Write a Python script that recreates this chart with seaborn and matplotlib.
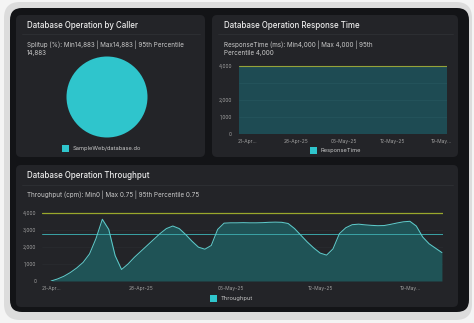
import numpy as np
import pandas as pd
import matplotlib
matplotlib.use("Agg")
import matplotlib.pyplot as plt
import seaborn as sns
from matplotlib.patches import FancyBboxPatch, Rectangle

# ---------------- data ----------------
pie_labels = ["SampleWeb/database.do"]
pie_values = [14883]

rt_dates = pd.date_range("2025-04-19 20:00", "2025-05-19 20:00", freq="12h")
rt_values = [4000] * len(rt_dates)

tp_dates = pd.date_range("2025-04-21 00:00", periods=62, freq="12h")
tp_values = [0, 120, 280, 500, 770, 1100, 1600, 2500, 3650, 3050,
             1500, 680, 1000, 1400, 1750, 2100, 2450, 2800, 3100, 3250,
             3100, 2750, 2350, 2000, 1880, 2100, 3050, 3420, 3440, 3440,
             3450, 3440, 3440, 3450, 3470, 3480, 3470, 3400, 3100, 2700,
             2300, 1950, 1650, 1530, 1900, 2800, 3150, 3330, 3360, 3320,
             3290, 3270, 3280, 3350, 3430, 3500, 3530, 3250, 2600, 2200,
             1940, 1680]
tp_max_line = 4000
tp_p95_line = 2760

y_ticks = [0, 1000, 2000, 3000, 4000]
rt_y_ticks = [0, 1000, 2000, 4000]
x_tick_dates = pd.to_datetime(["2025-04-21", "2025-04-28", "2025-05-05", "2025-05-12", "2025-05-19"])
x_tick_labels = ["21-Apr...", "28-Apr-25", "05-May-25", "12-May-25", "19-May..."]

# ---------------- style ----------------
sns.set_theme(style="dark")
plt.rcParams['font.family'] = ['Inter', 'DejaVu Sans']

W, H = 474, 323
fig = plt.figure(figsize=(W / 100, H / 100), dpi=100)
fig.patch.set_facecolor("#f4f4f4")

bg = fig.add_axes([0, 0, 1, 1])
bg.set_xlim(0, W)
bg.set_ylim(H, 0)
bg.axis("off")

PANEL = "#232428"
TITLE_C = "#ededed"
SUB_C = "#cacaca"
TICK_C = "#a0a0a0"
TEAL = "#2fc5cc"

# device bezel and frame
bg.add_patch(FancyBboxPatch((4, 2), 468, 318, boxstyle="round,pad=0,rounding_size=16",
                            fc="#dcdcdc", ec="none"))
bg.add_patch(FancyBboxPatch((10, 8), 459, 304, boxstyle="round,pad=0,rounding_size=12",
                            fc="#131417", ec="none"))

def panel(x0, y0, x1, y1):
    bg.add_patch(FancyBboxPatch((x0, y0), x1 - x0, y1 - y0,
                                boxstyle="round,pad=0,rounding_size=5",
                                fc=PANEL, ec="none"))

panel(16, 15, 205, 157)
panel(212, 15, 458, 157)
panel(16, 165, 458, 307)

# separators under titles
bg.plot([22, 200], [34, 34], color="#2e3034", lw=0.6)
bg.plot([218, 453], [34, 34], color="#2e3034", lw=0.6)
bg.plot([22, 453], [185, 185], color="#2e3034", lw=0.6)

# titles
tkw = dict(color=TITLE_C, fontsize=5.7, va="center", fontweight="medium")
bg.text(27, 25, "Database Operation by Caller", **tkw)
bg.text(224, 25, "Database Operation Response Time", **tkw)
bg.text(27, 176, "Database Operation Throughput", **tkw)

# subtitles
skw = dict(color=SUB_C, fontsize=4.55, va="center")
bg.text(27, 45, "Splitup (%): Min14,883 | Max14,883 | 95th Percentile", **skw)
bg.text(27, 53.5, "14,883", **skw)
bg.text(224, 44.5, "ResponseTime (ms): Min4,000 | Max 4,000 | 95th", **skw)
bg.text(224, 53, "Percentile 4,000", **skw)
bg.text(27, 195, "Throughput (cpm): Min0 | Max 0.75 | 95th Percentile 0.75", **skw)

def px_rect(x0, y0, x1, y1):
    return [x0 / W, 1 - y1 / H, (x1 - x0) / W, (y1 - y0) / H]

# ---------------- pie ----------------
ax_pie = fig.add_axes(px_rect(66.5, 56.5, 147.5, 137.5))
ax_pie.pie(pie_values, colors=[TEAL], radius=1, startangle=90,
           wedgeprops=dict(linewidth=0))
ax_pie.set_xlim(-1, 1)
ax_pie.set_ylim(-1, 1)
ax_pie.set_aspect("equal")
ax_pie.axis("off")

def legend(x, y, label):
    bg.add_patch(Rectangle((x, y - 3.3), 6.6, 6.6, fc=TEAL, ec="none"))
    bg.text(x + 11, y, label, color=SUB_C, fontsize=4.1, va="center")

legend(62, 148.5, pie_labels[0])
legend(310, 150.5, "ResponseTime")
legend(210, 298.5, "Throughput")

def style_chart(ax, yticks, ypad):
    ax.set_facecolor(PANEL)
    ax.patch.set_alpha(0)
    for s in ax.spines.values():
        s.set_visible(False)
    ax.set_yticks(yticks)
    ax.set_yticklabels([f"{v:,}" for v in yticks])
    ax.set_xticks(x_tick_dates)
    ax.set_xticklabels(x_tick_labels)
    ax.tick_params(axis="y", length=0, labelsize=3.5, labelcolor=TICK_C, pad=ypad)
    ax.tick_params(axis="x", length=1.5, width=0.6, color="#c0c0c0", labelsize=3.5,
                   labelcolor=TICK_C, pad=2, direction="out")
    ax.set_xlabel("")
    ax.set_ylabel("")
    ax.grid(False)

# ---------------- response time ----------------
rt_df = pd.DataFrame({"date": rt_dates, "value": rt_values})
ax_rt = fig.add_axes(px_rect(239, 64, 447, 134))
for g in [1000, 2000, 3000]:
    ax_rt.axhline(g, color="#285860", lw=0.4, zorder=2)
ax_rt.fill_between(rt_df["date"], rt_df["value"], 0, color="#1e4b53", lw=0, zorder=1)
sns.lineplot(data=rt_df, x="date", y="value", ax=ax_rt, color="#95a33a", lw=0.8, zorder=3)
ax_rt.set_xlim(rt_dates[0], rt_dates[-1])
ax_rt.set_ylim(0, 4100)
style_chart(ax_rt, rt_y_ticks, 5)

# ---------------- throughput ----------------
tp_df = pd.DataFrame({"date": tp_dates, "value": tp_values})
ax_tp = fig.add_axes(px_rect(42, 212, 443, 281))
for g in [1000, 2000, 3000]:
    ax_tp.axhline(g, color="#2b2d32", lw=0.4, zorder=0)
ax_tp.fill_between(tp_df["date"], tp_df["value"], 0, color="#1f5356", lw=0, zorder=1)
ax_tp.axhline(tp_max_line, color="#9aa82c", lw=0.9, zorder=3)
ax_tp.axhline(tp_p95_line, color="#3aa3a6", lw=0.7, zorder=3)
sns.lineplot(data=tp_df, x="date", y="value", ax=ax_tp, color="#5cc9c9", lw=0.75, zorder=4)
ax_tp.set_xlim(tp_dates[0] - pd.Timedelta(hours=17), tp_dates[-1] + pd.Timedelta(hours=2))
ax_tp.set_ylim(0, 4080)
style_chart(ax_tp, y_ticks, 4)

fig.savefig("out.png", dpi=100, facecolor=fig.get_facecolor())
